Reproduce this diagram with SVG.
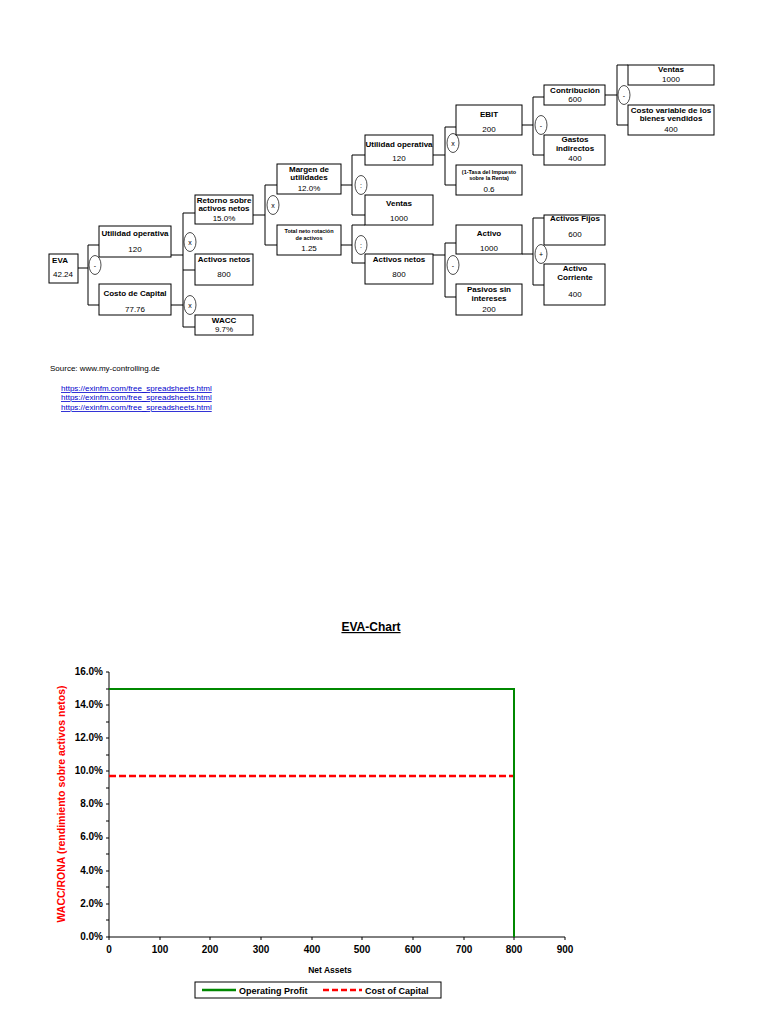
<svg xmlns="http://www.w3.org/2000/svg" width="768" height="1024" viewBox="0 0 768 1024">
<style>
text{font-family:"Liberation Sans",Arial,sans-serif;fill:#000}
.b{font-size:8px;font-weight:bold;text-anchor:middle}
.s{font-size:5.5px;font-weight:bold;text-anchor:middle}
.v{font-size:8px;text-anchor:middle}
.n rect{fill:#fff;stroke:#000;stroke-width:1}
.c line,.c polyline{stroke:#000;stroke-width:1;fill:none}
.op ellipse{fill:#fff;stroke:#000;stroke-width:0.7}
.op text{font-size:7px;text-anchor:middle}
.ax{font-size:10px;font-weight:bold}
.lnk{font-size:8px;fill:#00c;text-decoration:underline}
</style>
<rect width="768" height="1024" fill="#fff"/>
<g class="c">
<polyline points="78,268 88,268"/><line x1="88" y1="245" x2="88" y2="305"/><line x1="88" y1="245" x2="99" y2="245"/><line x1="88" y1="305" x2="99" y2="305"/>
<polyline points="171,255 183,255"/><polyline points="171,305 183,305"/><line x1="183" y1="213" x2="183" y2="327"/>
<line x1="183" y1="213" x2="195" y2="213"/><line x1="183" y1="270" x2="195" y2="270"/><line x1="183" y1="327" x2="195" y2="327"/>
<polyline points="253,215 265,215"/><line x1="265" y1="185" x2="265" y2="245"/><line x1="265" y1="185" x2="277" y2="185"/><line x1="265" y1="245" x2="277" y2="245"/>
<polyline points="341,185 352,185"/><polyline points="341,245 352,245"/>
<line x1="352" y1="155" x2="352" y2="215"/><line x1="352" y1="155" x2="365" y2="155"/><line x1="352" y1="215" x2="365" y2="215"/>
<line x1="352" y1="225" x2="352" y2="263"/><line x1="352" y1="225" x2="365" y2="225"/><line x1="352" y1="263" x2="365" y2="263"/>
<polyline points="433,155 445,155"/><line x1="445" y1="127" x2="445" y2="185"/><line x1="445" y1="127" x2="456" y2="127"/><line x1="445" y1="185" x2="456" y2="185"/>
<polyline points="433,255 445,255"/><line x1="445" y1="243" x2="445" y2="297"/><line x1="445" y1="243" x2="456" y2="243"/><line x1="445" y1="297" x2="456" y2="297"/>
<polyline points="522,125 533,125"/><line x1="533" y1="97" x2="533" y2="155"/><line x1="533" y1="97" x2="544" y2="97"/><line x1="533" y1="155" x2="544" y2="155"/>
<polyline points="605,95 617,95"/><line x1="617" y1="65" x2="617" y2="125"/><line x1="617" y1="65" x2="628" y2="65"/><line x1="617" y1="125" x2="628" y2="125"/>
<polyline points="522,254 533,254"/><line x1="533" y1="218" x2="533" y2="285"/><line x1="533" y1="218" x2="544" y2="218"/><line x1="533" y1="285" x2="544" y2="285"/>
</g>
<g class="op">
<g id="op1"><ellipse cx="95" cy="265" rx="6" ry="9.5"/><text x="95" y="268">-</text></g>
<g id="op2"><ellipse cx="190" cy="242" rx="6" ry="9.5"/><text x="190" y="245">x</text></g>
<g id="op3"><ellipse cx="190" cy="305" rx="6" ry="9.5"/><text x="190" y="308">x</text></g>
<g id="op4"><ellipse cx="273" cy="205" rx="6" ry="9.5"/><text x="273" y="208">x</text></g>
<g id="op5"><ellipse cx="361" cy="185" rx="6" ry="9.5"/><text x="361" y="188">:</text></g>
<g id="op6"><ellipse cx="361" cy="245" rx="6" ry="9.5"/><text x="361" y="248">:</text></g>
<g id="op7"><ellipse cx="453" cy="143" rx="6" ry="9.5"/><text x="453" y="146">x</text></g>
<g id="op8"><ellipse cx="453" cy="265" rx="6" ry="9.5"/><text x="453" y="268">-</text></g>
<g id="op9"><ellipse cx="541" cy="125" rx="6" ry="9.5"/><text x="541" y="128">-</text></g>
<g id="op10"><ellipse cx="624" cy="95" rx="6" ry="9.5"/><text x="624" y="98">-</text></g>
<g id="op11"><ellipse cx="541" cy="254" rx="6" ry="9.5"/><text x="541" y="257">+</text></g>
</g>
<g class="n">
<g id="eva"><rect x="49" y="254" width="29" height="29"/><text class="b" x="60" y="263">EVA</text><text class="v" x="63" y="277">42.24</text></g>
<g id="uo1"><rect x="99" y="226" width="72" height="31"/><text class="b" x="135" y="236">Utilidad operativa</text><text class="v" x="135" y="252">120</text></g>
<g id="cc"><rect x="99" y="284" width="72" height="31"/><text class="b" x="135" y="296">Costo de Capital</text><text class="v" x="135" y="312">77.76</text></g>
<g id="rsan"><rect x="195" y="195" width="58" height="29"/><text class="b" x="224" y="203">Retorno sobre</text><text class="b" x="224" y="211">activos netos</text><text class="v" x="224" y="221">15.0%</text></g>
<g id="an1"><rect x="195" y="254" width="58" height="31"/><text class="b" x="224" y="262">Activos netos</text><text class="v" x="224" y="277">800</text></g>
<g id="wacc"><rect x="195" y="315" width="58" height="20"/><text class="b" x="224" y="323">WACC</text><text class="v" x="224" y="332">9.7%</text></g>
<g id="mu"><rect x="277" y="164" width="64" height="30"/><text class="b" x="309" y="172">Margen de</text><text class="b" x="309" y="180">utilidades</text><text class="v" x="309" y="191">12.0%</text></g>
<g id="tnr"><rect x="277" y="225" width="64" height="30"/><text class="s" x="309" y="233">Total neto rotación</text><text class="s" x="309" y="240">de activos</text><text class="v" x="309" y="251">1.25</text></g>
<g id="uo2"><rect x="365" y="135" width="68" height="30"/><text class="b" x="399" y="147">Utilidad operativa</text><text class="v" x="399" y="161">120</text></g>
<g id="ventas1"><rect x="365" y="195" width="68" height="30"/><text class="b" x="399" y="206">Ventas</text><text class="v" x="399" y="221">1000</text></g>
<g id="an2"><rect x="365" y="254" width="68" height="30"/><text class="b" x="399" y="262">Activos netos</text><text class="v" x="399" y="277">800</text></g>
<g id="ebit"><rect x="456" y="105" width="66" height="30"/><text class="b" x="489" y="117">EBIT</text><text class="v" x="489" y="132">200</text></g>
<g id="tasa"><rect x="456" y="165" width="66" height="30"/><text class="s" x="489" y="174">(1-Tasa del Impuesto</text><text class="s" x="489" y="180">sobre la Renta)</text><text class="v" x="489" y="192">0.6</text></g>
<g id="activo"><rect x="456" y="225" width="66" height="29"/><text class="b" x="489" y="236">Activo</text><text class="v" x="489" y="251">1000</text></g>
<g id="pasivos"><rect x="456" y="284" width="66" height="31"/><text class="b" x="489" y="292">Pasivos sin</text><text class="b" x="489" y="301">intereses</text><text class="v" x="489" y="312">200</text></g>
<g id="contrib"><rect x="544" y="85" width="61" height="20"/><text class="b" x="575" y="93">Contribución</text><text class="v" x="575" y="102">600</text></g>
<g id="gastos"><rect x="544" y="135" width="61" height="30"/><text class="b" x="575" y="142">Gastos</text><text class="b" x="575" y="151">indirectos</text><text class="v" x="575" y="161">400</text></g>
<g id="ventas2"><rect x="628" y="65" width="86" height="20"/><text class="b" x="671" y="72">Ventas</text><text class="v" x="671" y="82">1000</text></g>
<g id="cvbv"><rect x="628" y="105" width="86" height="30"/><text class="b" x="671" y="113">Costo variable de los</text><text class="b" x="671" y="121">bienes vendidos</text><text class="v" x="671" y="132">400</text></g>
<g id="af"><rect x="544" y="215" width="61" height="30"/><text class="b" x="575" y="221">Activos Fijos</text><text class="v" x="575" y="237">600</text></g>
<g id="ac"><rect x="544" y="264" width="61" height="41"/><text class="b" x="575" y="271">Activo</text><text class="b" x="575" y="280">Corriente</text><text class="v" x="575" y="297">400</text></g>
</g>
<text x="50" y="371" style="font-size:8px">Source: www.my-controlling.de</text>
<text class="lnk" x="61" y="391">https://exinfm.com/free_spreadsheets.html</text>
<text class="lnk" x="61" y="400">https://exinfm.com/free_spreadsheets.html</text>
<text class="lnk" x="61" y="410">https://exinfm.com/free_spreadsheets.html</text>
<text x="371" y="631" style="font-size:12px;font-weight:bold;text-anchor:middle;text-decoration:underline">EVA-Chart</text>
<g stroke="#000" stroke-width="1">
<line x1="109" y1="672" x2="109" y2="937"/><line x1="109" y1="937" x2="565" y2="937"/>
<path d="M106,672h3M106,689h3M106,705h3M106,722h3M106,738h3M106,755h3M106,771h3M106,788h3M106,804h3M106,821h3M106,838h3M106,854h3M106,871h3M106,887h3M106,904h3M106,920h3M106,937h3"/>
<path d="M109,937v3M160,937v3M210,937v3M261,937v3M312,937v3M362,937v3M413,937v3M464,937v3M514,937v3M565,937v3"/>
</g>
<g class="ax" text-anchor="end">
<text x="103" y="675">16.0%</text><text x="103" y="708">14.0%</text><text x="103" y="741">12.0%</text><text x="103" y="774">10.0%</text><text x="103" y="807">8.0%</text><text x="103" y="840">6.0%</text><text x="103" y="874">4.0%</text><text x="103" y="907">2.0%</text><text x="103" y="940">0.0%</text>
</g>
<g class="ax" text-anchor="middle">
<text x="109" y="953">0</text><text x="160" y="953">100</text><text x="210" y="953">200</text><text x="261" y="953">300</text><text x="312" y="953">400</text><text x="362" y="953">500</text><text x="413" y="953">600</text><text x="464" y="953">700</text><text x="514" y="953">800</text><text x="565" y="953">900</text>
</g>
<polyline points="109,689 514,689 514,937" fill="none" stroke="#080" stroke-width="2"/>
<line x1="109" y1="776" x2="513" y2="776" stroke="#f00" stroke-width="2.5" stroke-dasharray="7,3"/>
<text x="330" y="973" style="font-size:8.5px;font-weight:bold;text-anchor:middle">Net Assets</text>
<text transform="translate(65,804) rotate(-90)" style="font-size:10.5px;font-weight:bold;fill:#f00;text-anchor:middle">WACC/RONA (rendimiento sobre activos netos)</text>
<rect x="195" y="982" width="246" height="16" fill="#fff" stroke="#000"/>
<line x1="202" y1="990" x2="236" y2="990" stroke="#080" stroke-width="2.5"/>
<text x="239" y="993.5" style="font-size:9px;font-weight:bold">Operating Profit</text>
<line x1="323" y1="990" x2="362" y2="990" stroke="#f00" stroke-width="2.5" stroke-dasharray="6,3"/>
<text x="365" y="993.5" style="font-size:9px;font-weight:bold">Cost of Capital</text>
</svg>
